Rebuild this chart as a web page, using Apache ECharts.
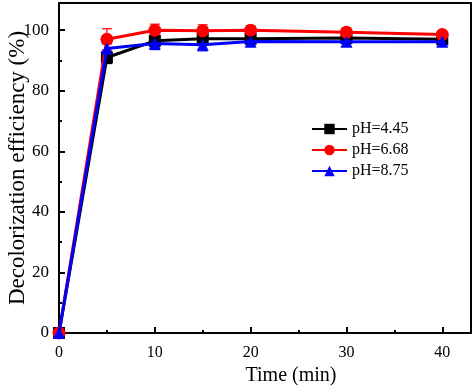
<!DOCTYPE html>
<html><head><meta charset="utf-8">
<script src="https://cdn.jsdelivr.net/npm/echarts@6/dist/echarts.min.js"></script>
<style>html,body{margin:0;padding:0;background:#fff}#c{width:474px;height:391px}</style>
</head><body><div id="c"></div>
<script>
const times = [0, 5, 10, 15, 20, 30, 40];
const names = ['pH=4.45', 'pH=6.68', 'pH=8.75'];
const pH445 = [0, 91, 96.5, 97.2, 97.2, 97.4, 97];
const pH668 = [0, 97, 100, 99.8, 100, 99.3, 98.6];
const pH875 = [0, 94, 95.6, 95.2, 96.3, 96.2, 96.2];
const err445 = [0, 2, 2.5, 2, 1.5, 1.5, 1.5];
const err668 = [0, 3.5, 2, 2, 1.5, 1.5, 1.2];
const err875 = [0, 1.5, 2, 2, 1.8, 1.5, 1.5];
const colors = ['#000000', '#ff0000', '#0000ff'];
const symbols = ['rect', 'circle', 'triangle'];
const vals = [pH445, pH668, pH875];
const errs = [err445, err668, err875];

const font = 'Liberation Serif, Times New Roman, serif';
const chart = echarts.init(document.getElementById('c'), null, {renderer: 'canvas'});

const series = [];
vals.forEach((v, i) => {
  series.push({
    type: 'custom', name: names[i] + ' err', silent: true,
    data: times.map((t, k) => [t, v[k] - errs[i][k], v[k] + errs[i][k]]),
    z: 1,
    renderItem: function (params, api) {
      const lo = api.coord([api.value(0), api.value(1)]);
      const hi = api.coord([api.value(0), api.value(2)]);
      const w = 5;
      const st = {stroke: colors[i], lineWidth: 1.2};
      return {type: 'group', children: [
        {type: 'line', shape: {x1: lo[0], y1: lo[1], x2: hi[0], y2: hi[1]}, style: st},
        {type: 'line', shape: {x1: lo[0] - w, y1: lo[1], x2: lo[0] + w, y2: lo[1]}, style: st},
        {type: 'line', shape: {x1: hi[0] - w, y1: hi[1], x2: hi[0] + w, y2: hi[1]}, style: st}
      ]};
    }
  });
});
vals.forEach((v, i) => {
  series.push({
    type: 'line', name: names[i],
    data: times.map((t, k) => [t, v[k]]),
    symbol: symbols[i], symbolSize: i === 1 ? 13 : 12,
    lineStyle: {color: colors[i], width: 3},
    itemStyle: {color: colors[i]},
    z: 2 + i
  });
});

chart.setOption({
  animation: false,
  grid: {left: 59, right: 3, top: 3, bottom: 58, containLabel: false, outerBoundsMode: 'none',
    show: true, borderColor: '#000', borderWidth: 2, backgroundColor: 'transparent'},
  legend: {
    data: names, orient: 'vertical', left: 306, top: 116, itemGap: 5,
    itemWidth: 35, itemHeight: 13, itemGap: 5,
    textStyle: {fontFamily: font, fontSize: 16, color: '#000'}
  },
  xAxis: {
    type: 'value', min: 0, max: 43, interval: 10,
    name: 'Time (min)', nameLocation: 'middle', nameGap: 33, nameMoveOverlap: false,
    nameTextStyle: {fontFamily: font, fontSize: 20, color: '#000', padding: [0, 0, 0, 52]},
    axisLine: {lineStyle: {color: '#000', width: 2}},
    axisTick: {inside: true, length: 6, lineStyle: {color: '#000', width: 2}},
    minorTick: {show: true, splitNumber: 2, length: 3, lineStyle: {color: '#000', width: 2}},
    axisLabel: {fontFamily: font, fontSize: 16, color: '#000', margin: 12,
      formatter: v => (v % 10 === 0 && v <= 40) ? String(v) : ''},
    splitLine: {show: false}
  },
  yAxis: {
    type: 'value', min: 0, max: 109, interval: 20,
    name: 'Decolorization efficiency (%)', nameLocation: 'middle', nameGap: 30, nameMoveOverlap: false,
    nameTextStyle: {fontFamily: font, fontSize: 23, color: '#000'},
    axisLine: {lineStyle: {color: '#000', width: 2}},
    axisTick: {inside: true, length: 6, lineStyle: {color: '#000', width: 2}},
    minorTick: {show: true, splitNumber: 2, length: 3, lineStyle: {color: '#000', width: 2}},
    axisLabel: {fontFamily: font, fontSize: 17, color: '#000', margin: 10,
      formatter: v => (v % 20 === 0 && v <= 100) ? String(v) : ''},
    splitLine: {show: false}
  },
  series: series
});
</script></body></html>
